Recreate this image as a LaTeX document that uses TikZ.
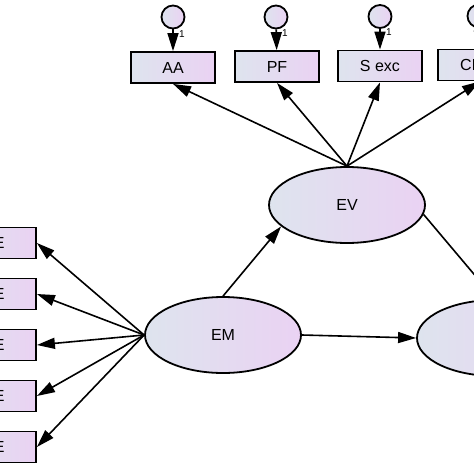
\documentclass[tikz,border=0pt]{standalone}
\usepackage{fontspec}
\setmainfont{Liberation Sans}
\usetikzlibrary{shapes.geometric,arrows.meta}
\definecolor{gl}{RGB}{222,228,238}
\definecolor{gr}{RGB}{234,210,243}
\begin{document}
\begin{tikzpicture}[x=1pt,y=-1pt,
 obs/.style={draw=black, line width=1.8pt, left color=gl, right color=gr, minimum width=84pt, minimum height=31pt, inner sep=0pt, font=\fontsize{16}{19}\selectfont},
 lat/.style={ellipse, draw=black, line width=1.8pt, left color=gl, right color=gr, minimum width=156pt, minimum height=76pt, inner sep=0pt, font=\fontsize{16}{19}\selectfont},
 err/.style={circle, draw=black, line width=1.8pt, left color=gl, right color=gr, minimum size=23pt, inner sep=0pt},
 arr/.style={line width=1.6pt, -{Triangle[length=18pt,width=11pt]}},
 one/.style={font=\fontsize{10}{11}\selectfont, inner sep=0pt}
]
\useasboundingbox (0,0) rectangle (474,474);
\clip (0,0) rectangle (474,474);
\fill[white] (0,0) rectangle (474,474);

% observed indicators top
\node[obs] (AA) at (173,67.5) {AA};
\node[obs] (PF) at (277,66.5) {PF};
\node[obs] (SE) at (380,66) {S exc};
\node[obs] (CI) at (480,65) {CI\hphantom{xxx}};

% error terms
\node[err] (e1) at (173,17) {};
\node[err] (e2) at (276,17) {};
\node[err] (e3) at (380,16.5) {};
\node[err] (e4) at (479,16) {};
\draw[arr] (e1) -- (AA);
\draw[arr] (e2) -- (PF);
\draw[arr] (e3) -- (SE);
\draw[arr] (e4) -- (CI);
\node[one] (o1) at (182,34) {1};
\node[one] (o2) at (285,33) {1};
\node[one] (o3) at (389,32) {1};

% latent variables
\node[lat] (EV) at (347,205) {EV};
\node[lat] (EM) at (223,335) {EM};
\node[lat] (R) at (495,338) {};

% left indicators
\node[obs] (L1) at (-6,243) {\hphantom{E}E};
\node[obs] (L2) at (-6,294) {\hphantom{E}E};
\node[obs] (L3) at (-6,345) {\hphantom{E}E};
\node[obs] (L4) at (-6,396) {\hphantom{E}E};
\node[obs] (L5) at (-6,447) {\hphantom{E}E};

% paths
\draw[arr] (EV.north) -- (AA.south);
\draw[arr] (EV.north) -- (PF.south);
\draw[arr] (EV.north) -- (SE.south);
\draw[arr] (EV.north) -- (CI.south);
\draw[arr] (EM.north) -- (EV.198);
\draw[arr] (EM.east) -- (R.west);
\draw[arr] (EV.353) -- (R.north);
\foreach \i in {1,...,5} {\draw[arr] (EM.west) -- (L\i.east);}
\end{tikzpicture}
\end{document}
